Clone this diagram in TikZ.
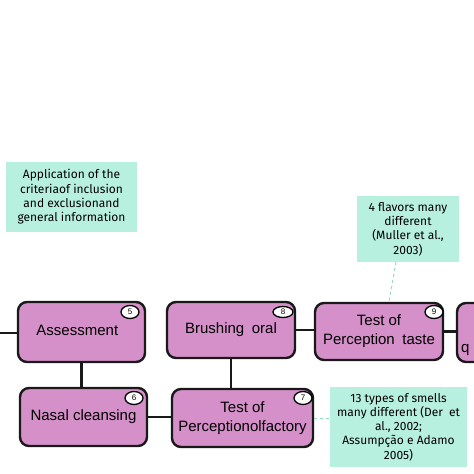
\documentclass[tikz,border=0pt]{standalone}
\usepackage{fontspec}
\setmainfont{Liberation Sans}
\newfontfamily\notefont{Fira Sans}
\usetikzlibrary{shapes.geometric}
\definecolor{stagepink}{RGB}{213,143,201}
\definecolor{notegreen}{RGB}{184,240,224}
\definecolor{dashgreen}{RGB}{150,215,200}
\begin{document}
\begin{tikzpicture}[x=1pt,y=-1pt,
  stage/.style={draw=black!90, line width=2.4pt, rounded corners=9pt, fill=stagepink,
    align=center, font=\fontsize{15}{19}\selectfont, inner sep=0pt},
  badge/.style={ellipse, draw=black, line width=1.3pt, fill=white, minimum width=18pt,
    minimum height=13pt, inner sep=0pt, font=\fontsize{8}{8}\selectfont},
  note/.style={fill=notegreen, align=center, font=\notefont\fontsize{12}{14.3}\selectfont, inner sep=0pt},
  link/.style={line width=2.4pt, draw=black!90},
  dlink/.style={dashed, draw=dashgreen, line width=1pt}]
\useasboundingbox (0,0) rectangle (474,474);
\clip (0,0) rectangle (474,474);
\fill[white] (0,0) rectangle (474,474);

% notes
\node[note, minimum width=131pt, minimum height=70pt] (note1) at (71.5,197)
  {Application of the\\criteriaof inclusion\\and exclusionand\\general information};
\node[note, minimum width=102pt, minimum height=66pt] (note2) at (408,229)
  {4 flavors many\\different\\(Muller et al.,\\2003)};
\node[note, minimum width=137pt, minimum height=80pt] (note3) at (398.5,427)
  {13 types of smells\\many different (Der\enspace et\\al., 2002;\\Assumpção e Adamo\\2005)};

% stages
\node[stage, minimum width=127pt, minimum height=60pt] (assess) at (81.5,332) {Assessment\phantom{g}};
\node[stage, minimum width=127pt, minimum height=58pt] (nasal) at (83.5,417) {Nasal cleansing};
\node[stage, minimum width=141pt, minimum height=58pt] (olf) at (242.5,418) {Test of\\Perceptionolfactory};
\node[stage, minimum width=128pt, minimum height=56pt] (brush) at (231,330) {Brushing\enspace oral};
\node[stage, minimum width=128pt, minimum height=57pt] (taste) at (379,331.5) {Test of\\Perception\enspace taste};
\node[stage, minimum width=83pt, minimum height=59pt] (quest) at (498.5,332.5) {};
\node[font=\fontsize{15}{19}\selectfont, anchor=base west, inner sep=0pt] (qtext) at (461,352) {q};

% connectors
\coordinate (leftend) at (-5,333);
\draw[link] (leftend) -- (leftend -| assess.west);
\draw[link] (assess.south) -- (assess.south |- nasal.north);
\draw[link] (nasal.east) -- (nasal.east -| olf.west);
\draw[link] (brush.south) -- (brush.south |- olf.north);
\draw[link] (brush.east) -- (brush.east -| taste.west);
\draw[link] (taste.east) -- (taste.east -| quest.west);
\draw[dlink] ([xshift=-12pt]note2.south) -- ([xshift=10pt]taste.north);
\draw[dlink] (olf.east) -- (olf.east -| note3.west);

% badges
\node[badge] (b5) at (130,312) {5};
\node[badge] (b6) at (134,398) {6};
\node[badge] (b7) at (303,398) {7};
\node[badge, minimum width=20pt, minimum height=11pt] (b8) at (283,312) {8};
\node[badge] (b9) at (434,312) {9};
\end{tikzpicture}
\end{document}
